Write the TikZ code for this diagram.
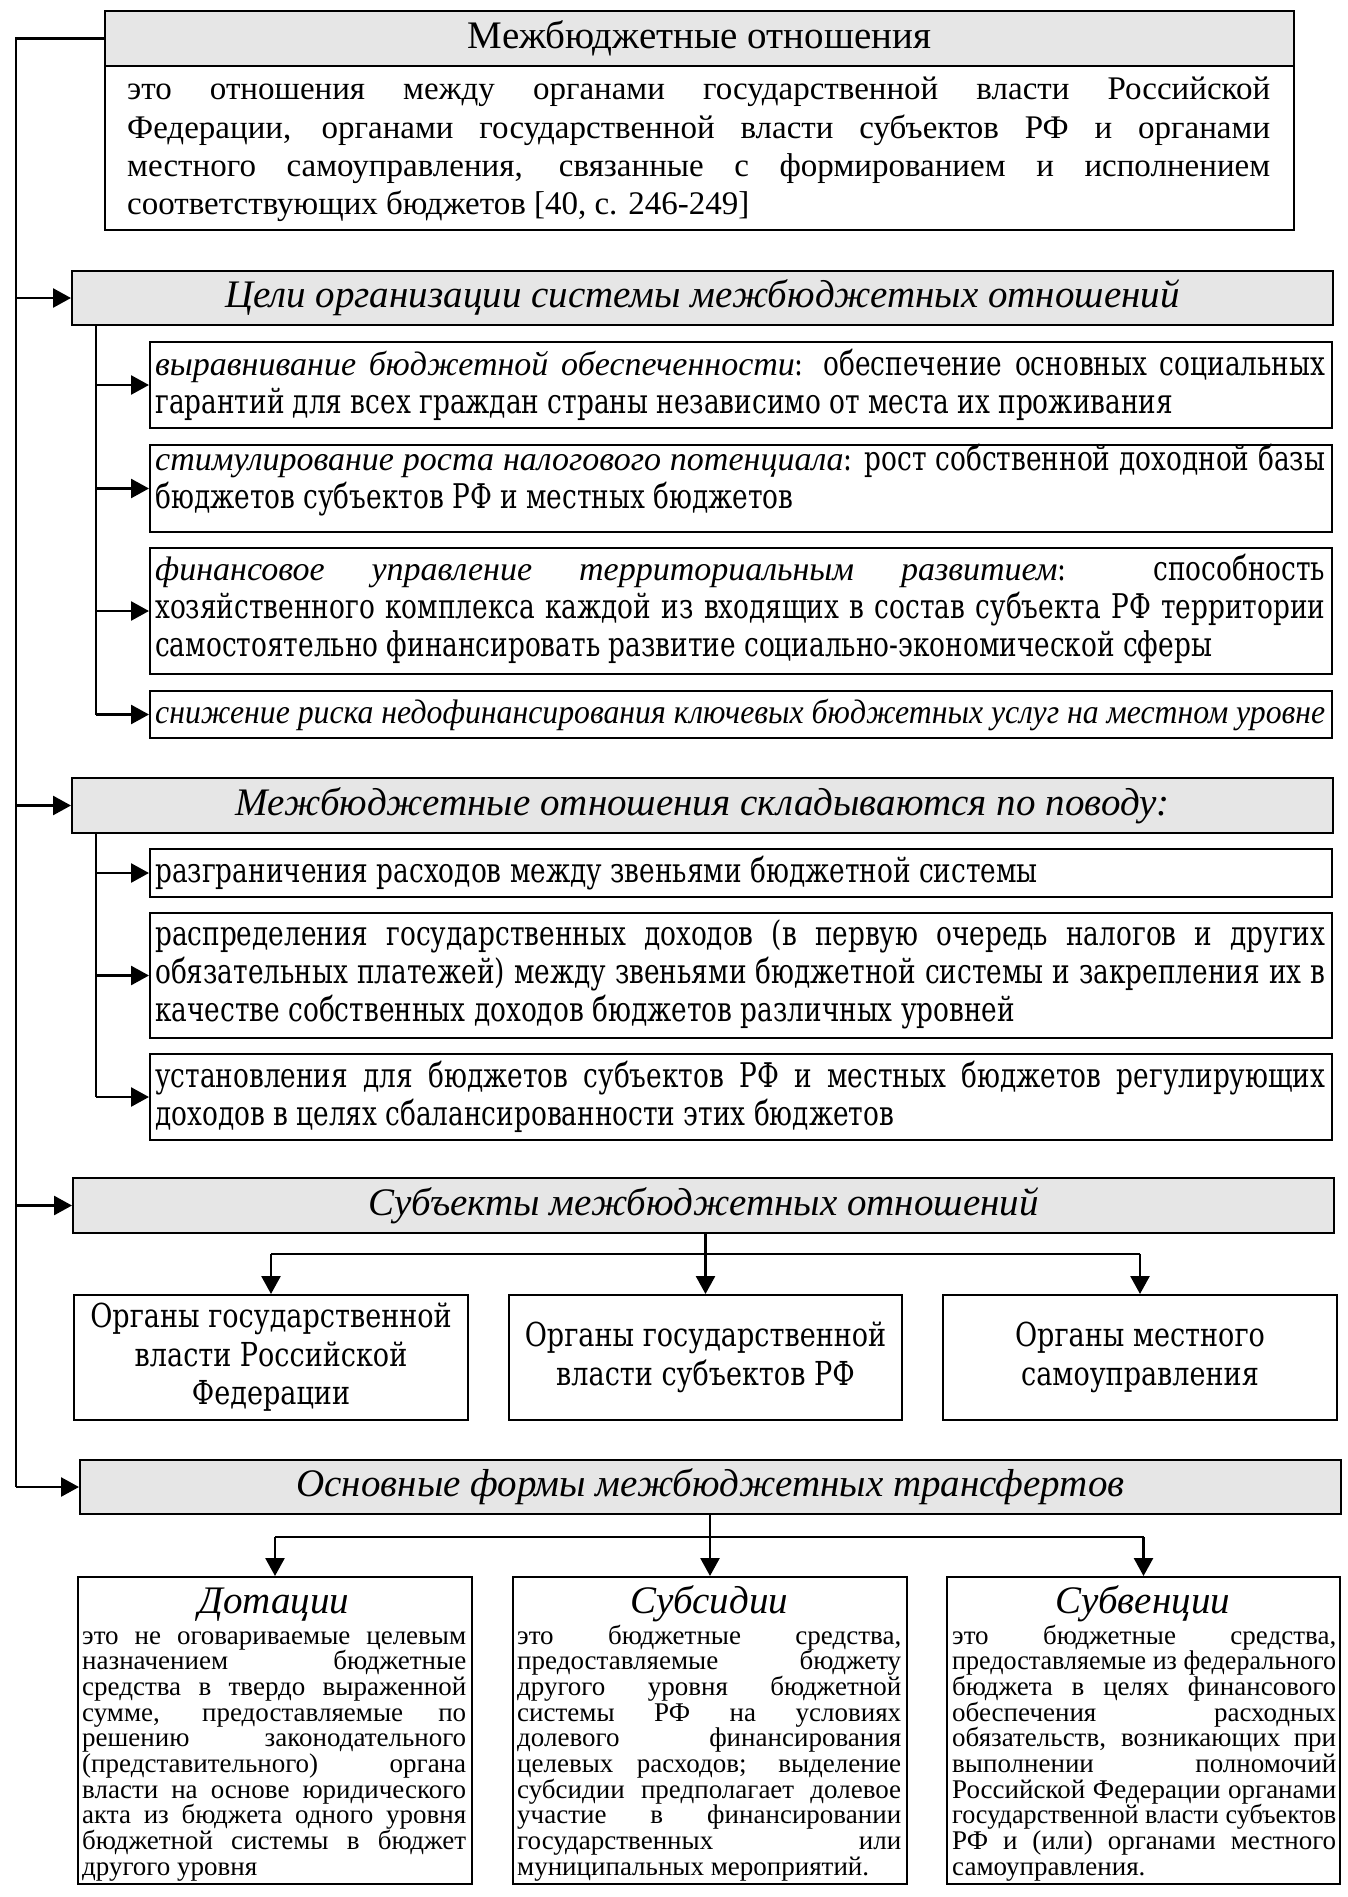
\documentclass[tikz,border=0pt]{standalone}
\usepackage{fontspec}
\usepackage{graphicx}
\setmainfont{Liberation Serif}
\newfontfamily\wfont[FakeStretch=0.775]{DejaVu Serif}
\newfontfamily\sfont[FakeStretch=0.82]{DejaVu Serif}
\usetikzlibrary{arrows.meta}
\definecolor{hdgray}{RGB}{230,230,230}
\newcommand\JL[1]{\setbox0=\hbox{#1}\ifdim\wd0>\linewidth\resizebox{\linewidth}{\height}{#1}\else\makebox[\linewidth][s]{#1}\fi\par}
\newcommand\LL[1]{\makebox[\linewidth][l]{#1}\par}
\newcommand\hdf{\rmfamily\itshape\fontsize{39}{40}\selectfont}
\newcommand\gf{\wfont\fontsize{34}{38.3}\selectfont\lineskiplimit=-100pt}
\newcommand\gi[1]{{\rmfamily\itshape\fontsize{34}{38.3}\selectfont #1}}
\newcommand\bfnt{\rmfamily\fontsize{27}{25.7}\selectfont\lineskiplimit=-100pt}
\newcommand\btf{\rmfamily\itshape\fontsize{39}{40}\selectfont}
\tikzset{
  rbox/.style={draw, line width=2pt, inner sep=0pt, anchor=north west},
  hbox/.style={rbox, fill=hdgray},
  conn/.style={line width=2.7pt},
  arr/.style={line width=2.7pt, -{Triangle[length=18pt,width=19pt]}},
  txt/.style={inner sep=0pt, anchor=base west},
  ttl/.style={inner sep=0pt, anchor=base},
}
\begin{document}
\begin{tikzpicture}[x=1pt,y=-1pt]
\fill[white] (0,0) rectangle (1348,1897);
\useasboundingbox (0,0) rectangle (1348,1897);

% top block
\node[hbox,minimum width=1189pt,minimum height=55pt] (topH) at (104,10) {\fontsize{39}{40}\selectfont Межбюджетные отношения};
\node[rbox,minimum width=1189pt,minimum height=164pt] (topB) at (104,65) {};
\node[txt] (topT) at (127,100) {\parbox[t]{1143pt}{\fontsize{33}{38.3}\selectfont\lineskiplimit=-100pt
\JL{это отношения между органами государственной власти Российской}
\JL{Федерации, органами государственной власти субъектов РФ и органами}
\JL{местного самоуправления, связанные с формированием и исполнением}
\LL{соответствующих бюджетов [40, с. 246-249]}}};

% headers
\node[hbox,minimum width=1261pt,minimum height=54pt] (h1) at (71,270) {\hdf Цели организации системы межбюджетных отношений};
\node[hbox,minimum width=1261pt,minimum height=55pt] (h2) at (71,777) {\hdf Межбюджетные отношения складываются по поводу:};
\node[hbox,minimum width=1261pt,minimum height=55pt] (h3) at (72,1177) {\hdf Субъекты межбюджетных отношений};
\node[hbox,minimum width=1261pt,minimum height=54pt] (h4) at (79,1459) {\hdf Основные формы межбюджетных трансфертов};

% goals
\node[rbox,minimum width=1182pt,minimum height=86pt] (g1) at (149,341) {};
\node[rbox,minimum width=1182pt,minimum height=87pt] (g2) at (149,444) {};
\node[rbox,minimum width=1182pt,minimum height=126pt] (g3) at (149,547) {};
\node[rbox,minimum width=1182pt,minimum height=47pt] (g4) at (149,690) {};
\node[txt] (g1t) at (155,375) {\parbox[t]{1170pt}{\gf
\JL{\gi{выравнивание бюджетной обеспеченности}: обеспечение основных социальных}
\LL{гарантий для всех граждан страны независимо от места их проживания}}};
\node[txt] (g2t) at (155,470) {\parbox[t]{1170pt}{\gf
\JL{\gi{стимулирование роста налогового потенциала}: рост собственной доходной базы}
\LL{бюджетов субъектов РФ и местных бюджетов}}};
\node[txt] (g3t) at (155,580) {\parbox[t]{1170pt}{\gf
\JL{\gi{финансовое управление территориальным развитием}: способность}
\JL{хозяйственного комплекса каждой из входящих в состав субъекта РФ территории}
\LL{самостоятельно финансировать развитие социально-экономической сферы}}};
\node[txt] (g4t) at (155,723) {\parbox[t]{1170pt}{\gf
\JL{\gi{снижение риска недофинансирования ключевых бюджетных услуг на местном уровне}}}};

% relations
\node[rbox,minimum width=1182pt,minimum height=48pt] (r1) at (149,848) {};
\node[rbox,minimum width=1182pt,minimum height=125pt] (r2) at (149,912) {};
\node[rbox,minimum width=1182pt,minimum height=86pt] (r3) at (149,1053) {};
\node[txt] (r1t) at (155,882) {\parbox[t]{1170pt}{\gf
\LL{разграничения расходов между звеньями бюджетной системы}}};
\node[txt] (r2t) at (155,945) {\parbox[t]{1170pt}{\gf
\JL{распределения государственных доходов (в первую очередь налогов и других}
\JL{обязательных платежей) между звеньями бюджетной системы и закрепления их в}
\LL{качестве собственных доходов бюджетов различных уровней}}};
\node[txt] (r3t) at (155,1087) {\parbox[t]{1170pt}{\gf
\JL{установления для бюджетов субъектов РФ и местных бюджетов регулирующих}
\LL{доходов в целях сбалансированности этих бюджетов}}};

% subjects
\node[rbox,minimum width=394pt,minimum height=125pt] (s1) at (73,1294) {\parbox{390pt}{\centering\sfont\fontsize{33}{38.5}\selectfont Органы государственной\\власти Российской\\Федерации}};
\node[rbox,minimum width=393pt,minimum height=125pt] (s2) at (508,1294) {\parbox{390pt}{\centering\sfont\fontsize{33}{38.5}\selectfont Органы государственной\\власти субъектов РФ}};
\node[rbox,minimum width=394pt,minimum height=125pt] (s3) at (942,1294) {\parbox{390pt}{\centering\sfont\fontsize{33}{38.5}\selectfont Органы местного\\самоуправления}};

% forms
\node[rbox,minimum width=394pt,minimum height=307pt] (f1) at (77,1576) {};
\node[rbox,minimum width=394pt,minimum height=307pt] (f2) at (512,1576) {};
\node[rbox,minimum width=393pt,minimum height=307pt] (f3) at (946,1576) {};
\node[ttl] (f1h) at (274,1613) {\btf Дотации};
\node[ttl] (f2h) at (709,1613) {\btf Субсидии};
\node[ttl] (f3h) at (1142.5,1613) {\btf Субвенции};
\node[txt] (f1t) at (82,1644) {\parbox[t]{384pt}{\bfnt
\JL{это не оговариваемые целевым}
\JL{назначением бюджетные}
\JL{средства в твердо выраженной}
\JL{сумме, предоставляемые по}
\JL{решению законодательного}
\JL{(представительного) органа}
\JL{власти на основе юридического}
\JL{акта из бюджета одного уровня}
\JL{бюджетной системы в бюджет}
\LL{другого уровня}}};
\node[txt] (f2t) at (517,1644) {\parbox[t]{384pt}{\bfnt
\JL{это бюджетные средства,}
\JL{предоставляемые бюджету}
\JL{другого уровня бюджетной}
\JL{системы РФ на условиях}
\JL{долевого финансирования}
\JL{целевых расходов; выделение}
\JL{субсидии предполагает долевое}
\JL{участие в финансировании}
\JL{государственных или}
\LL{муниципальных мероприятий.}}};
\node[txt] (f3t) at (952,1644) {\parbox[t]{384pt}{\bfnt
\JL{это бюджетные средства,}
\JL{предоставляемые из федерального}
\JL{бюджета в целях финансового}
\JL{обеспечения расходных}
\JL{обязательств, возникающих при}
\JL{выполнении полномочий}
\JL{Российской Федерации органами}
\JL{государственной власти субъектов}
\JL{РФ и (или) органами местного}
\LL{самоуправления.}}};

% trunk
\coordinate (tx) at (16,0);
\coordinate (ix) at (96,0);
\draw[conn] (topH.west) -- (topH.west -| tx) -- (h4.west -| tx);
\draw[arr] (h1.west -| tx) -- (h1.west);
\draw[arr] (h2.west -| tx) -- (h2.west);
\draw[arr] (h3.west -| tx) -- (h3.west);
\draw[arr] (h4.west -| tx) -- (h4.west);

% goals branch
\draw[conn] (h1.south -| ix) -- (g4.west -| ix);
\draw[arr] (g1.west -| ix) -- (g1.west);
\draw[arr] (g2.west -| ix) -- (g2.west);
\draw[arr] (g3.west -| ix) -- (g3.west);
\draw[arr] (g4.west -| ix) -- (g4.west);

% relations branch
\draw[conn] (h2.south -| ix) -- (r3.west -| ix);
\draw[arr] (r1.west -| ix) -- (r1.west);
\draw[arr] (r2.west -| ix) -- (r2.west);
\draw[arr] (r3.west -| ix) -- (r3.west);

% subjects branch
\coordinate (sj) at (704,1254);
\draw[conn] (s1.north |- sj) -- (s3.north |- sj);
\draw[arr] (h3.south -| s2.north) -- (s2.north);
\draw[arr] (s1.north |- sj) -- (s1.north);
\draw[arr] (s3.north |- sj) -- (s3.north);

% forms branch
\coordinate (fj) at (708,1537);
\draw[conn] (f1.north |- fj) -- (f3.north |- fj);
\draw[arr] (h4.south -| f2.north) -- (f2.north);
\draw[arr] (f1.north |- fj) -- (f1.north);
\draw[arr] (f3.north |- fj) -- (f3.north);
\end{tikzpicture}
\end{document}
